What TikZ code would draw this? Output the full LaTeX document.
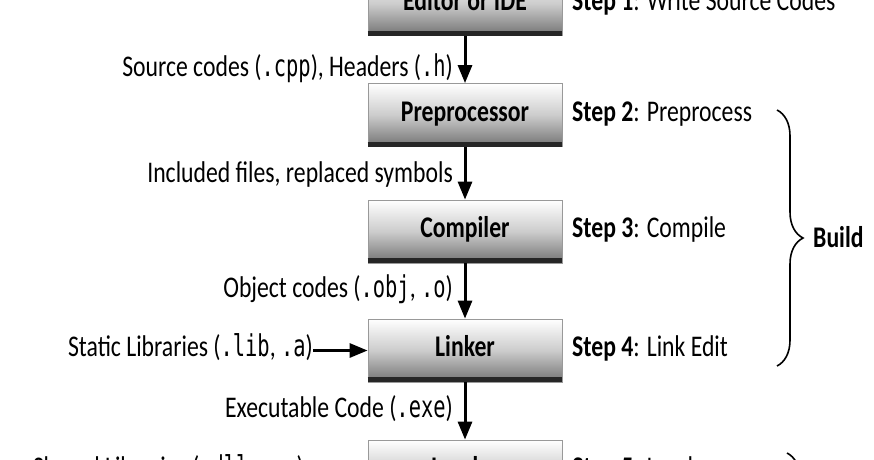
\documentclass[tikz,border=0pt]{standalone}
\usepackage{fontspec}
\setmainfont{Carlito}[FakeStretch=0.79]
\newfontfamily\extfont{DejaVu Sans Mono}[FakeStretch=0.68]
\usetikzlibrary{arrows.meta,decorations.pathreplacing}
\newcommand{\ext}[1]{{\extfont #1}}
\tikzset{
  stagebox/.style={minimum width=194pt, minimum height=63pt, inner sep=0pt,
    top color=white, bottom color=black!55, middle color=black!20,
    draw=black!40, line width=0.8pt,
    font=\bfseries\fontsize{30}{34}\selectfont, text height=20pt, text depth=8pt},
  stageedge/.style={line width=5pt, black!85},
  txt/.style={font=\fontsize{30}{34}\selectfont, inner sep=0pt, text height=20pt, text depth=8pt},
  flow/.style={line width=3pt, -{Triangle[length=18pt,width=14pt]}},
  curly/.style={decorate, decoration={brace, amplitude=26pt, aspect=0.5}, line width=1.6pt},
}
\begin{document}
\begin{tikzpicture}[x=1pt,y=-1pt]
\useasboundingbox (0,0) rectangle (874,459);
\clip (0,0) rectangle (874,459);
% boxes
\node[stagebox] (ed) at (465,4) {Editor or IDE};
\node[stagebox] (pp) at (465,115) {Preprocessor};
\node[stagebox] (cc) at (465,231.5) {Compiler};
\node[stagebox] (lk) at (465,350.5) {Linker};
\node[stagebox] (ld) at (465,471.5) {Loader};
\foreach \b in {ed,pp,cc,lk,ld}{
  \draw[stageedge] ([yshift=2.5pt]\b.south west) -- ([yshift=2.5pt]\b.south east);
}
% flow arrows
\draw[flow] (ed.south) -- (pp.north);
\draw[flow] (pp.south) -- (cc.north);
\draw[flow] (cc.south) -- (lk.north);
\draw[flow] (lk.south) -- (ld.north);
% arrow labels
\node[txt, anchor=east] (l1) at (453,70) {Source codes (\ext{.cpp}), Headers (\ext{.h})};
\node[txt, anchor=east] (l2) at (453,176) {Included files, replaced symbols};
\node[txt, anchor=east] (l3) at (453,291) {Object codes (\ext{.obj}, \ext{.o})};
\node[txt, anchor=east] (l4) at (453,411) {Executable Code (\ext{.exe})};
% step labels
\node[txt, anchor=west] (s1) at (572,4) {\textbf{Step 1}: Write Source Codes};
\node[txt, anchor=west] (s2) at (572,115) {\textbf{Step 2}: Preprocess};
\node[txt, anchor=west] (s3) at (572,231.5) {\textbf{Step 3}: Compile};
\node[txt, anchor=west] (s4) at (572,350.5) {\textbf{Step 4}: Link Edit};
\node[txt, anchor=west] (s5) at (572,471.5) {\textbf{Step 5}: Load};
% side inputs
\node[txt, anchor=east] (sl) at (313,350.5) {Static Libraries (\ext{.lib}, \ext{.a})};
\draw[flow] (sl.east) -- (lk.west);
\node[txt, anchor=east] (sh) at (304,471.5) {Shared Libraries (\ext{.dll}, \ext{.so})};
\draw[flow] ([xshift=8pt]sh.east) -- (ld.west);
% braces
\coordinate (bt) at (777,110);
\coordinate (bb) at (777,366);
\draw[curly] (bt) -- (bb);
\node[txt, anchor=west, font=\bfseries\fontsize{30}{34}\selectfont] (build) at (813,241) {Build};
\coordinate (rt) at (787,453);
\coordinate (rb) at (787,720);
\draw[curly] (rt) -- (rb);
\end{tikzpicture}
\end{document}
